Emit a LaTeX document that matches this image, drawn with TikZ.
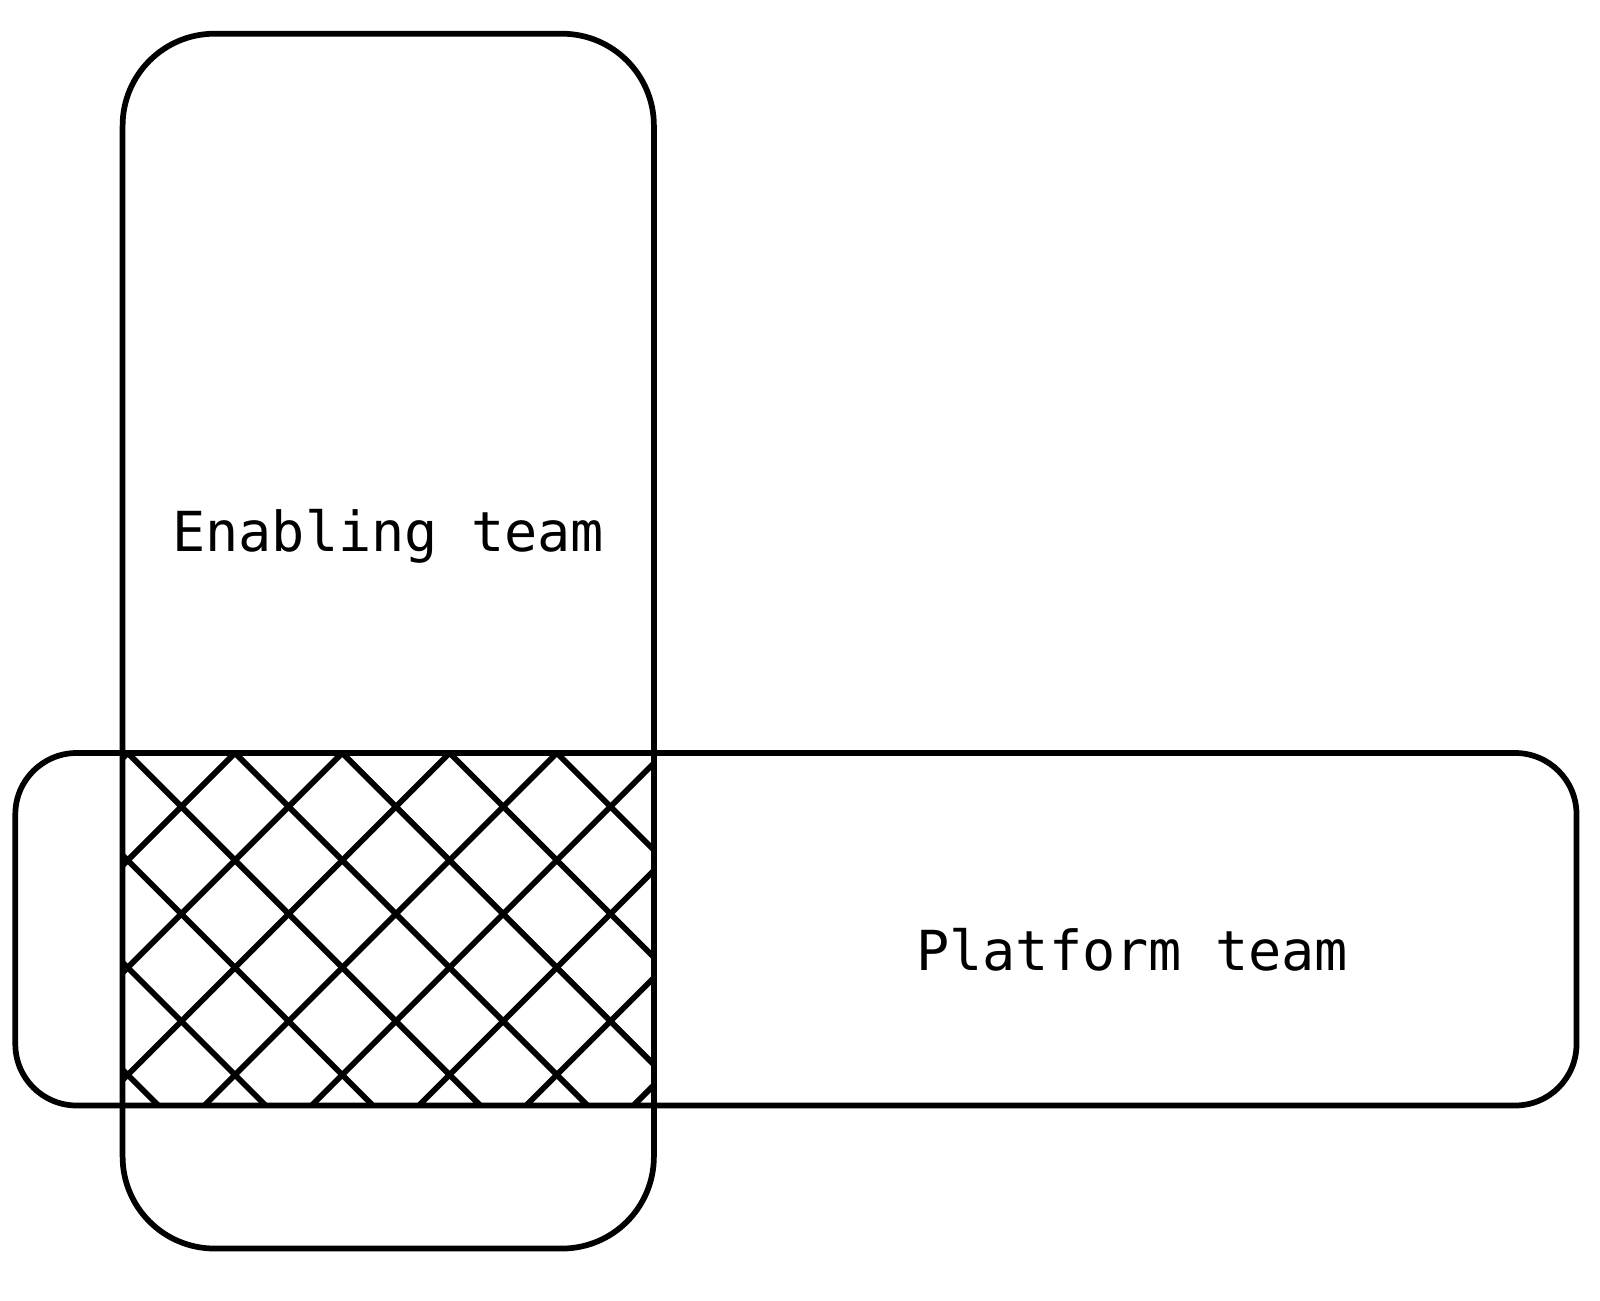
\documentclass[tikz,border=0pt]{standalone}
\usepackage{fontspec}
\newfontfamily\monof{DejaVu Sans Mono}
\begin{document}
\begin{tikzpicture}[x=0.5pt,y=-0.5pt,line width=2.8pt,
 lbl/.style={font=\monof\fontsize{27}{31}\selectfont}]
\useasboundingbox (0,0) rectangle (1566,1273);
\draw[rounded corners=45pt] (120,33) rectangle (640,1222);
\draw[rounded corners=30pt] (15,737) rectangle (1543,1082);
\begin{scope}
\clip (120,737) rectangle (640,1082);
\foreach \k in {-6,...,10}{
  \draw (20+\k*105,737) -- (20+\k*105+400,1137);
  \draw (20+\k*105,737) -- (20+\k*105-400,1137);
}
\end{scope}
\draw (120,737) rectangle (640,1082);
\node[lbl] (en) at (380,525) {Enabling team};
\node[lbl] (pl) at (1108,930) {Platform team};
\end{tikzpicture}
\end{document}
